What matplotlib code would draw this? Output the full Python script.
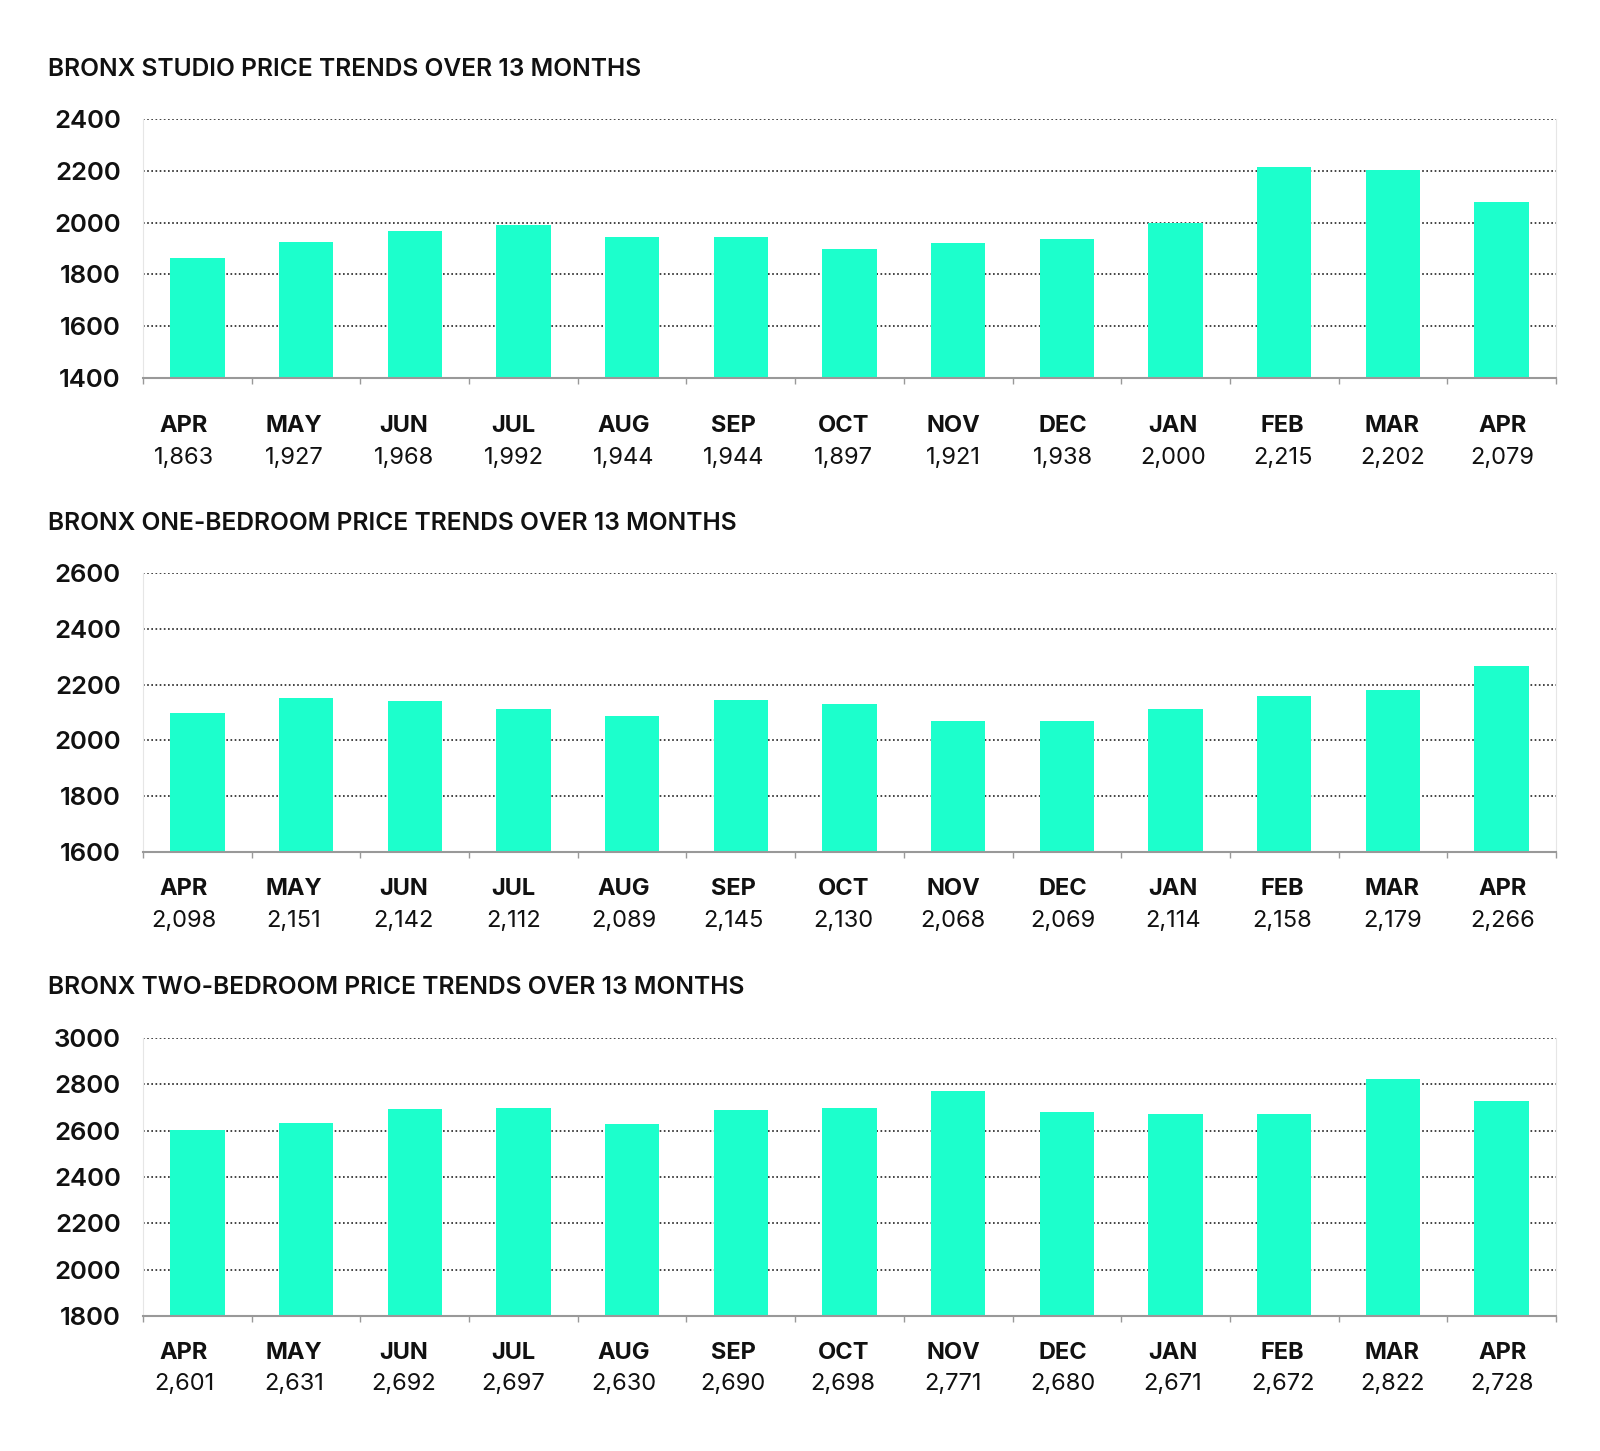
import matplotlib
matplotlib.use("Agg")
import matplotlib.pyplot as plt
import numpy as np

months = ["APR", "MAY", "JUN", "JUL", "AUG", "SEP", "OCT", "NOV", "DEC", "JAN", "FEB", "MAR", "APR"]
studio = [1863, 1927, 1968, 1992, 1944, 1944, 1897, 1921, 1938, 2000, 2215, 2202, 2079]
one_bed = [2098, 2151, 2142, 2112, 2089, 2145, 2130, 2068, 2069, 2114, 2158, 2179, 2266]
two_bed = [2601, 2631, 2692, 2697, 2630, 2690, 2698, 2771, 2680, 2671, 2672, 2822, 2728]

titles = ["BRONX STUDIO PRICE TRENDS OVER 13 MONTHS",
          "BRONX ONE-BEDROOM PRICE TRENDS OVER 13 MONTHS",
          "BRONX TWO-BEDROOM PRICE TRENDS OVER 13 MONTHS"]
y_ranges = [(1400, 2400, 200), (1600, 2600, 200), (1800, 3000, 200)]
series = [studio, one_bed, two_bed]

BAR = "#1CFFCC"
plt.rcParams["font.family"] = ["Inter", "DejaVu Sans"]

W, H = 1600, 1451
fig = plt.figure(figsize=(W / 100, H / 100), dpi=100)

# pixel layout: (top, bottom, title_y, month_offset, value_offset)
layout = [(119, 378, 70, 48, 80), (573, 852, 524, 37, 69), (1038, 1316, 988, 37, 68)]
left_px, right_px = 143, 1556
lab_first, lab_last = 0.029, 0.962

for (top, bot, ty, mo, vo), title, vals, (ymin, ymax, step) in zip(layout, titles, series, y_ranges):
    ax = fig.add_axes([left_px / W, 1 - bot / H, (right_px - left_px) / W, (bot - top) / H])
    x = np.arange(len(months))
    ax.bar(x, vals, width=0.5, color=BAR, zorder=2)
    ax.set_xlim(-0.5, len(months) - 0.5)
    ax.set_ylim(ymin, ymax)
    ax.set_yticks(np.arange(ymin, ymax + 1, step))
    ax.yaxis.grid(True, linestyle=(0, (1, 1.5)), color="#222222", linewidth=1.2, zorder=1)
    ax.set_axisbelow(True)
    ax.spines["top"].set_visible(False)
    for s in ["left", "right"]:
        ax.spines[s].set_color("#e6e6e6")
        ax.spines[s].set_linewidth(0.8)
    ax.spines["bottom"].set_color("#999999")
    ax.spines["bottom"].set_linewidth(1.5)
    ax.spines["bottom"].set_zorder(3)
    ax.tick_params(axis="y", length=0, pad=16, labelsize=18.5, labelcolor="#111111")
    for lab in ax.get_yticklabels():
        lab.set_fontweight("semibold")
    ax.set_xticks(np.arange(-0.5, len(months), 1.0))
    ax.set_xticklabels([])
    ax.tick_params(axis="x", length=4, color="#999999", width=1)
    n = len(months)
    for i, (m, v) in enumerate(zip(months, vals)):
        fx = lab_first + i * (lab_last - lab_first) / (n - 1)
        ax.annotate(m, xy=(fx, 0), xycoords="axes fraction",
                    xytext=(0, -mo), textcoords="offset pixels",
                    ha="center", va="center", fontsize=17, fontweight="bold", color="#111111")
        ax.annotate(f"{v:,}", xy=(fx, 0), xycoords="axes fraction",
                    xytext=(0, -vo), textcoords="offset pixels",
                    ha="center", va="center", fontsize=17, color="#111111")
    fig.text(48 / W, 1 - ty / H, title, ha="left", va="center",
             fontsize=17.7, fontweight="semibold", color="#111111")

fig.savefig("out.png", dpi=100, facecolor="white")
